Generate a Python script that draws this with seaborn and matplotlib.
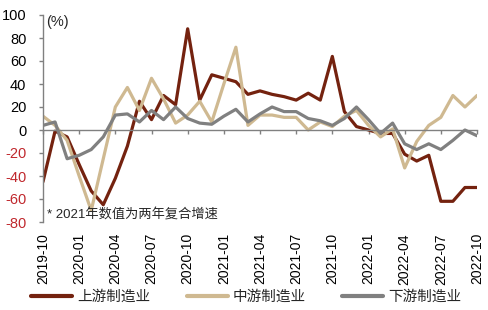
import matplotlib
matplotlib.use("Agg")
import matplotlib.pyplot as plt
import seaborn as sns
import pandas as pd
import numpy as np
from matplotlib.lines import Line2D

sns.set_theme(style="white")
plt.rcParams['font.family'] = ['Liberation Sans', 'Noto Sans CJK SC', 'DejaVu Sans']
plt.rcParams['axes.unicode_minus'] = False

months = pd.date_range('2019-10-01', periods=37, freq='MS').strftime('%Y-%m').tolist()

upstream = [-45, -1, -6, -30, -53, -65, -42, -14, 25, 9, 30, 22, 88, 26, 48, 45, 42,
            31, 34, 31, 29, 26, 32, 26, 64, 16, 3, 0, -3, -3, -21, -27, -22, -62, -62, -50, -50]
midstream = [12, 4, -9, -40, -70, -25, 20, 37, 17, 45, 27, 6, 13, 25, 7, 40, 72,
             4, 13, 13, 11, 11, 0, 7, 3, 12, 17, 4, -6, 1, -33, -10, 4, 11, 30, 20, 30]
downstream = [4, 7, -25, -22, -17, -6, 13, 14, 7, 17, 9, 20, 10, 6, 5, 12, 18,
              7, 14, 20, 16, 16, 10, 8, 4, 10, 20, 9, -3, 6, -12, -17, -12, -17, -9, 0, -5]

names = ['上游制造业', '中游制造业', '下游制造业']
colors = ['#74220F', '#CFB991', '#808080']

df = pd.DataFrame({
    'idx': list(range(len(months))) * 3,
    'value': upstream + midstream + downstream,
    'series': [names[0]] * len(months) + [names[1]] * len(months) + [names[2]] * len(months),
})

fig = plt.figure(figsize=(4.88, 3.10), dpi=100)
ax = fig.add_axes([43 / 488, 1 - 222 / 310, (477 - 43) / 488, (222 - 15) / 310])

sns.lineplot(data=df, x='idx', y='value', hue='series', hue_order=names,
             palette=colors, linewidth=2.3, ax=ax, legend=False)

ax.set_xlim(0, len(months) - 1)
ax.set_ylim(-80, 100)
ax.set_xlabel('')
ax.set_ylabel('')

for s in ['top', 'right']:
    ax.spines[s].set_visible(False)
ax.spines['left'].set_color('#808080')
ax.spines['left'].set_linewidth(1.0)
ax.spines['bottom'].set_position(('data', 0))
ax.spines['bottom'].set_color('#808080')
ax.spines['bottom'].set_linewidth(1.0)

tick_pos = list(range(0, len(months), 3))
ax.set_xticks(tick_pos)
ax.set_xticklabels([])
ax.tick_params(axis='x', direction='out', length=3, width=1, color='#808080', bottom=True)

yt = list(range(-80, 101, 20))
ax.set_yticks(yt)
ax.set_yticklabels([str(v) for v in yt])
ax.tick_params(axis='y', direction='out', length=3, width=1, color='#808080', left=True,
               labelsize=10.5, pad=9)
for lab, v in zip(ax.get_yticklabels(), yt):
    lab.set_color('#C0282D' if v < 0 else 'black')

sec = ax.secondary_xaxis('bottom')
sec.spines['bottom'].set_visible(False)
sec.set_xticks(tick_pos)
sec.set_xticklabels([months[i] for i in tick_pos], rotation=90, fontsize=10, color='black')
sec.tick_params(axis='x', length=0, pad=8)

ax.text(0.3, 100, '(%)', fontsize=10.5, va='top', ha='left')
ax.text(0.35, -73.5, '* 2021年数值为两年复合增速', fontsize=9.5, va='center', ha='left')

handles = [Line2D([0], [0], color=c, lw=3) for c in colors]
fig.legend(handles, names, loc='center', bbox_to_anchor=(0.505, 0.042), ncol=3,
           frameon=False, fontsize=10.5, handlelength=2.8, handletextpad=0.35,
           columnspacing=2.5)

fig.savefig('out.png', dpi=100)
